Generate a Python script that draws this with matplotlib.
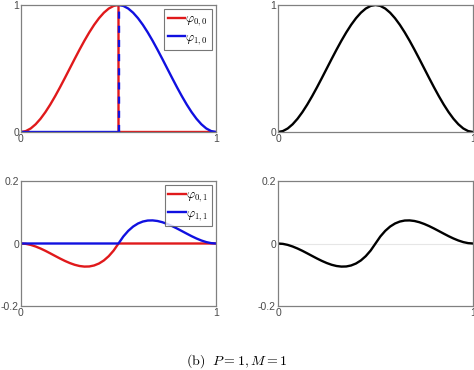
import matplotlib
matplotlib.use("Agg")
import matplotlib.pyplot as plt
import numpy as np

plt.rcParams['mathtext.fontset'] = 'cm'
plt.rcParams['font.family'] = ['Liberation Sans', 'DejaVu Sans']

# sample positions on each half-interval
x_left = [0.0, 0.025, 0.05, 0.075, 0.1, 0.125, 0.15, 0.175, 0.2, 0.225, 0.25,
          0.275, 0.3, 0.325, 0.35, 0.375, 0.4, 0.425, 0.45, 0.475, 0.5]
x_right = [0.5, 0.525, 0.55, 0.575, 0.6, 0.625, 0.65, 0.675, 0.7, 0.725, 0.75,
           0.775, 0.8, 0.825, 0.85, 0.875, 0.9, 0.925, 0.95, 0.975, 1.0]

# phi_{0,0} on left half (rises 0 -> 1)
phi00_left = [0.0, 0.0073, 0.028, 0.0608, 0.104, 0.1563, 0.216, 0.2818, 0.352, 0.4253, 0.5,
              0.5748, 0.648, 0.7183, 0.784, 0.8438, 0.896, 0.9393, 0.972, 0.9928, 1.0]
# phi_{1,0} on right half (falls 1 -> 0)
phi10_right = [1.0, 0.9928, 0.972, 0.9393, 0.896, 0.8438, 0.784, 0.7183, 0.648, 0.5748, 0.5,
               0.4253, 0.352, 0.2818, 0.216, 0.1563, 0.104, 0.0608, 0.028, 0.0073, 0.0]
# phi_{0,1} on left half (dip)
phi01_left = [0.0, -0.0012, -0.0045, -0.0096, -0.016, -0.0234, -0.0315, -0.0398, -0.048, -0.0557, -0.0625,
              -0.0681, -0.072, -0.0739, -0.0735, -0.0703, -0.064, -0.0542, -0.0405, -0.0226, 0.0]
# phi_{1,1} on right half (bump)
phi11_right = [0.0, 0.0226, 0.0405, 0.0542, 0.064, 0.0703, 0.0735, 0.0739, 0.072, 0.0681, 0.0625,
               0.0557, 0.048, 0.0398, 0.0315, 0.0234, 0.016, 0.0096, 0.0045, 0.0012, 0.0]

top_yticks = [0, 1]
top_yticklabels = ['0', '1']
bot_yticks = [-0.2, 0, 0.2]
bot_yticklabels = ['-0.2', '0', '0.2']
xticks = [0, 1]
xticklabels = ['0', '1']

W, H = 474, 370
fig = plt.figure(figsize=(W / 100, H / 100), dpi=100)

def ax_at(x0, y0, x1, y1):
    return fig.add_axes([x0 / W, 1 - y1 / H, (x1 - x0) / W, (y1 - y0) / H])

ax_tl = ax_at(21, 5, 216, 132)
ax_tr = ax_at(278, 5, 473, 132)
ax_bl = ax_at(21, 181, 216, 306)
ax_br = ax_at(278, 181, 473, 306)

RED = '#e0191b'
BLUE = '#1010e0'
LW = 1.7
spine_col = '#808080'
tick_col = '#4a4a4a'

def style(ax, yticks, yticklabels, ylim):
    ax.set_xlim(0, 1)
    ax.set_ylim(*ylim)
    ax.set_xticks(xticks)
    ax.set_xticklabels(xticklabels)
    ax.set_yticks(yticks)
    ax.set_yticklabels(yticklabels)
    for s in ax.spines.values():
        s.set_color(spine_col)
        s.set_linewidth(0.9)
    ax.tick_params(direction='in', length=2, width=0.6, colors=spine_col,
                   labelcolor=tick_col, labelsize=7.5, pad=1.5)

def add_legend(ax, handles):
    leg = ax.legend(handles=handles, loc='upper right', fontsize=9, handlelength=1.4,
                    handletextpad=0.0, borderpad=0.3, labelspacing=0.3, fancybox=False,
                    borderaxespad=0.35)
    leg.get_frame().set_edgecolor('#555555')
    leg.get_frame().set_linewidth(0.8)
    return leg

zeros_left = [0.0 for _ in x_left]

# Top-left
l1, = ax_tl.plot(x_left + [0.5, 1.0], phi00_left + [0.0, 0.0], color=RED, lw=LW, label=r'$\varphi_{0,0}$')
ax_tl.plot(x_left, zeros_left, color=BLUE, lw=LW)
ax_tl.plot(x_right, phi10_right, color=BLUE, lw=LW)
ax_tl.plot([0.5, 0.5], [0.0, 1.0], color=BLUE, lw=LW, linestyle=(0, (3, 3)))
l2 = matplotlib.lines.Line2D([], [], color=BLUE, lw=LW, label=r'$\varphi_{1,0}$')
style(ax_tl, top_yticks, top_yticklabels, (0, 1))
add_legend(ax_tl, [l1, l2])

# Top-right (combined)
ax_tr.plot(x_left + x_right[1:], phi00_left + phi10_right[1:], color='black', lw=LW)
style(ax_tr, top_yticks, top_yticklabels, (0, 1))

# Bottom-left
l3, = ax_bl.plot(x_left + [1.0], phi01_left + [0.0], color=RED, lw=LW, label=r'$\varphi_{0,1}$')
l4, = ax_bl.plot(x_left + x_right[1:], zeros_left + phi11_right[1:], color=BLUE, lw=LW, label=r'$\varphi_{1,1}$')
style(ax_bl, bot_yticks, bot_yticklabels, (-0.2, 0.2))
add_legend(ax_bl, [l3, l4])

# Bottom-right (combined)
ax_br.axhline(0, color='#e6e6e6', lw=0.8, zorder=0)
ax_br.plot(x_left + x_right[1:], phi01_left + phi11_right[1:], color='black', lw=LW)
style(ax_br, bot_yticks, bot_yticklabels, (-0.2, 0.2))

fig.text(237 / W, 1 - 361 / H, r'$\mathrm{(b)}\ \ P = 1, M = 1$', ha='center', va='center', fontsize=10)

fig.savefig('out.png', dpi=100)
